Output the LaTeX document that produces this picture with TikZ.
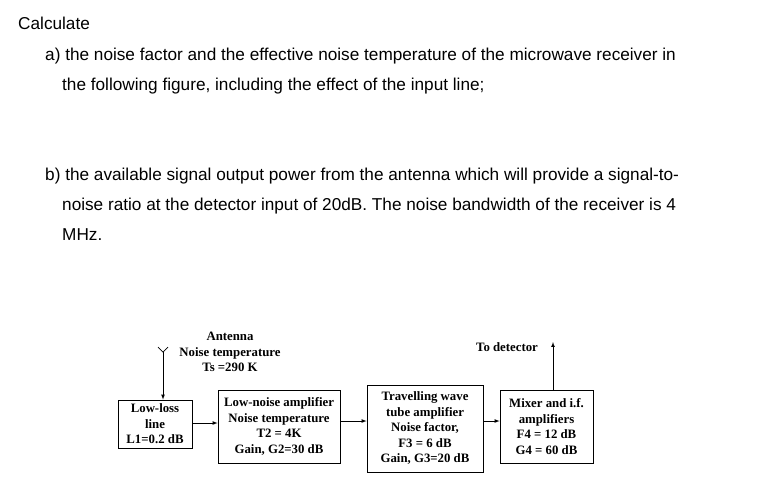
\documentclass[tikz,border=0pt]{standalone}
\usepackage{fontspec}
\setmainfont{Liberation Serif}
\newfontfamily\arial{Liberation Sans}
\begin{document}
\begin{tikzpicture}[x=1pt,y=-1pt,
  txt/.style={anchor=base west,inner sep=0pt,font=\arial\fontsize{17.2}{20}\selectfont},
  blk/.style={draw,line width=0.8pt,align=center,inner sep=0pt,font=\bfseries\fontsize{12.8}{15.5}\selectfont},
  lbl/.style={align=center,inner sep=0pt,font=\bfseries\fontsize{12.8}{15.5}\selectfont},
  arr/.style={-latex,line width=0.7pt}]
\useasboundingbox (0,0) rectangle (775,491);
\node[txt] (t0) at (18,29) {Calculate};
\node[txt] (t1) at (45,60) {a) the noise factor and the effective noise temperature of the microwave receiver in};
\node[txt] (t2) at (62,90) {the following figure, including the effect of the input line;};
\node[txt] (t3) at (45,180) {b) the available signal output power from the antenna which will provide a signal-to-};
\node[txt] (t4) at (62,210) {noise ratio at the detector input of 20dB. The noise bandwidth of the receiver is 4};
\node[txt] (t5) at (62,240) {MHz.};
\node[blk,minimum width=74,minimum height=48] (b1) at (155,424) {Low-loss\\line\\L1=0.2 dB};
\node[blk,minimum width=122,minimum height=73] (b2) at (279,426.5) {Low-noise amplifier\\Noise temperature\\T2 = 4K\\Gain, G2=30 dB};
\node[blk,minimum width=116,minimum height=87] (b3) at (425,428.5) {Travelling wave\\tube amplifier\\Noise factor,\\F3 = 6 dB\\Gain, G3=20 dB};
\node[blk,minimum width=93,minimum height=73] (b4) at (546.5,426.5) {Mixer and i.f.\\amplifiers\\F4 = 12 dB\\G4 = 60 dB};
\node[lbl] (ant) at (230,352) {Antenna\\Noise temperature\\Ts =290 K};
\node[lbl] (det) at (507,347) {To detector};
\coordinate (a0) at (163,352);
\coordinate (al) at (158,347);
\coordinate (ar) at (168,347);
\coordinate (d1) at (553,342);
\draw[line width=0.7pt] (al) -- (a0) -- (ar);
\draw[arr] (a0) -- (b1.north -| a0);
\draw[arr] (b1.east |- 0,423) -- (b2.west |- 0,423);
\draw[arr] (b2.east |- 0,421) -- (b3.west |- 0,421);
\draw[arr] (b3.east |- 0,421) -- (b4.west |- 0,421);
\draw[arr] (b4.north -| d1) -- (d1);
\end{tikzpicture}
\end{document}
